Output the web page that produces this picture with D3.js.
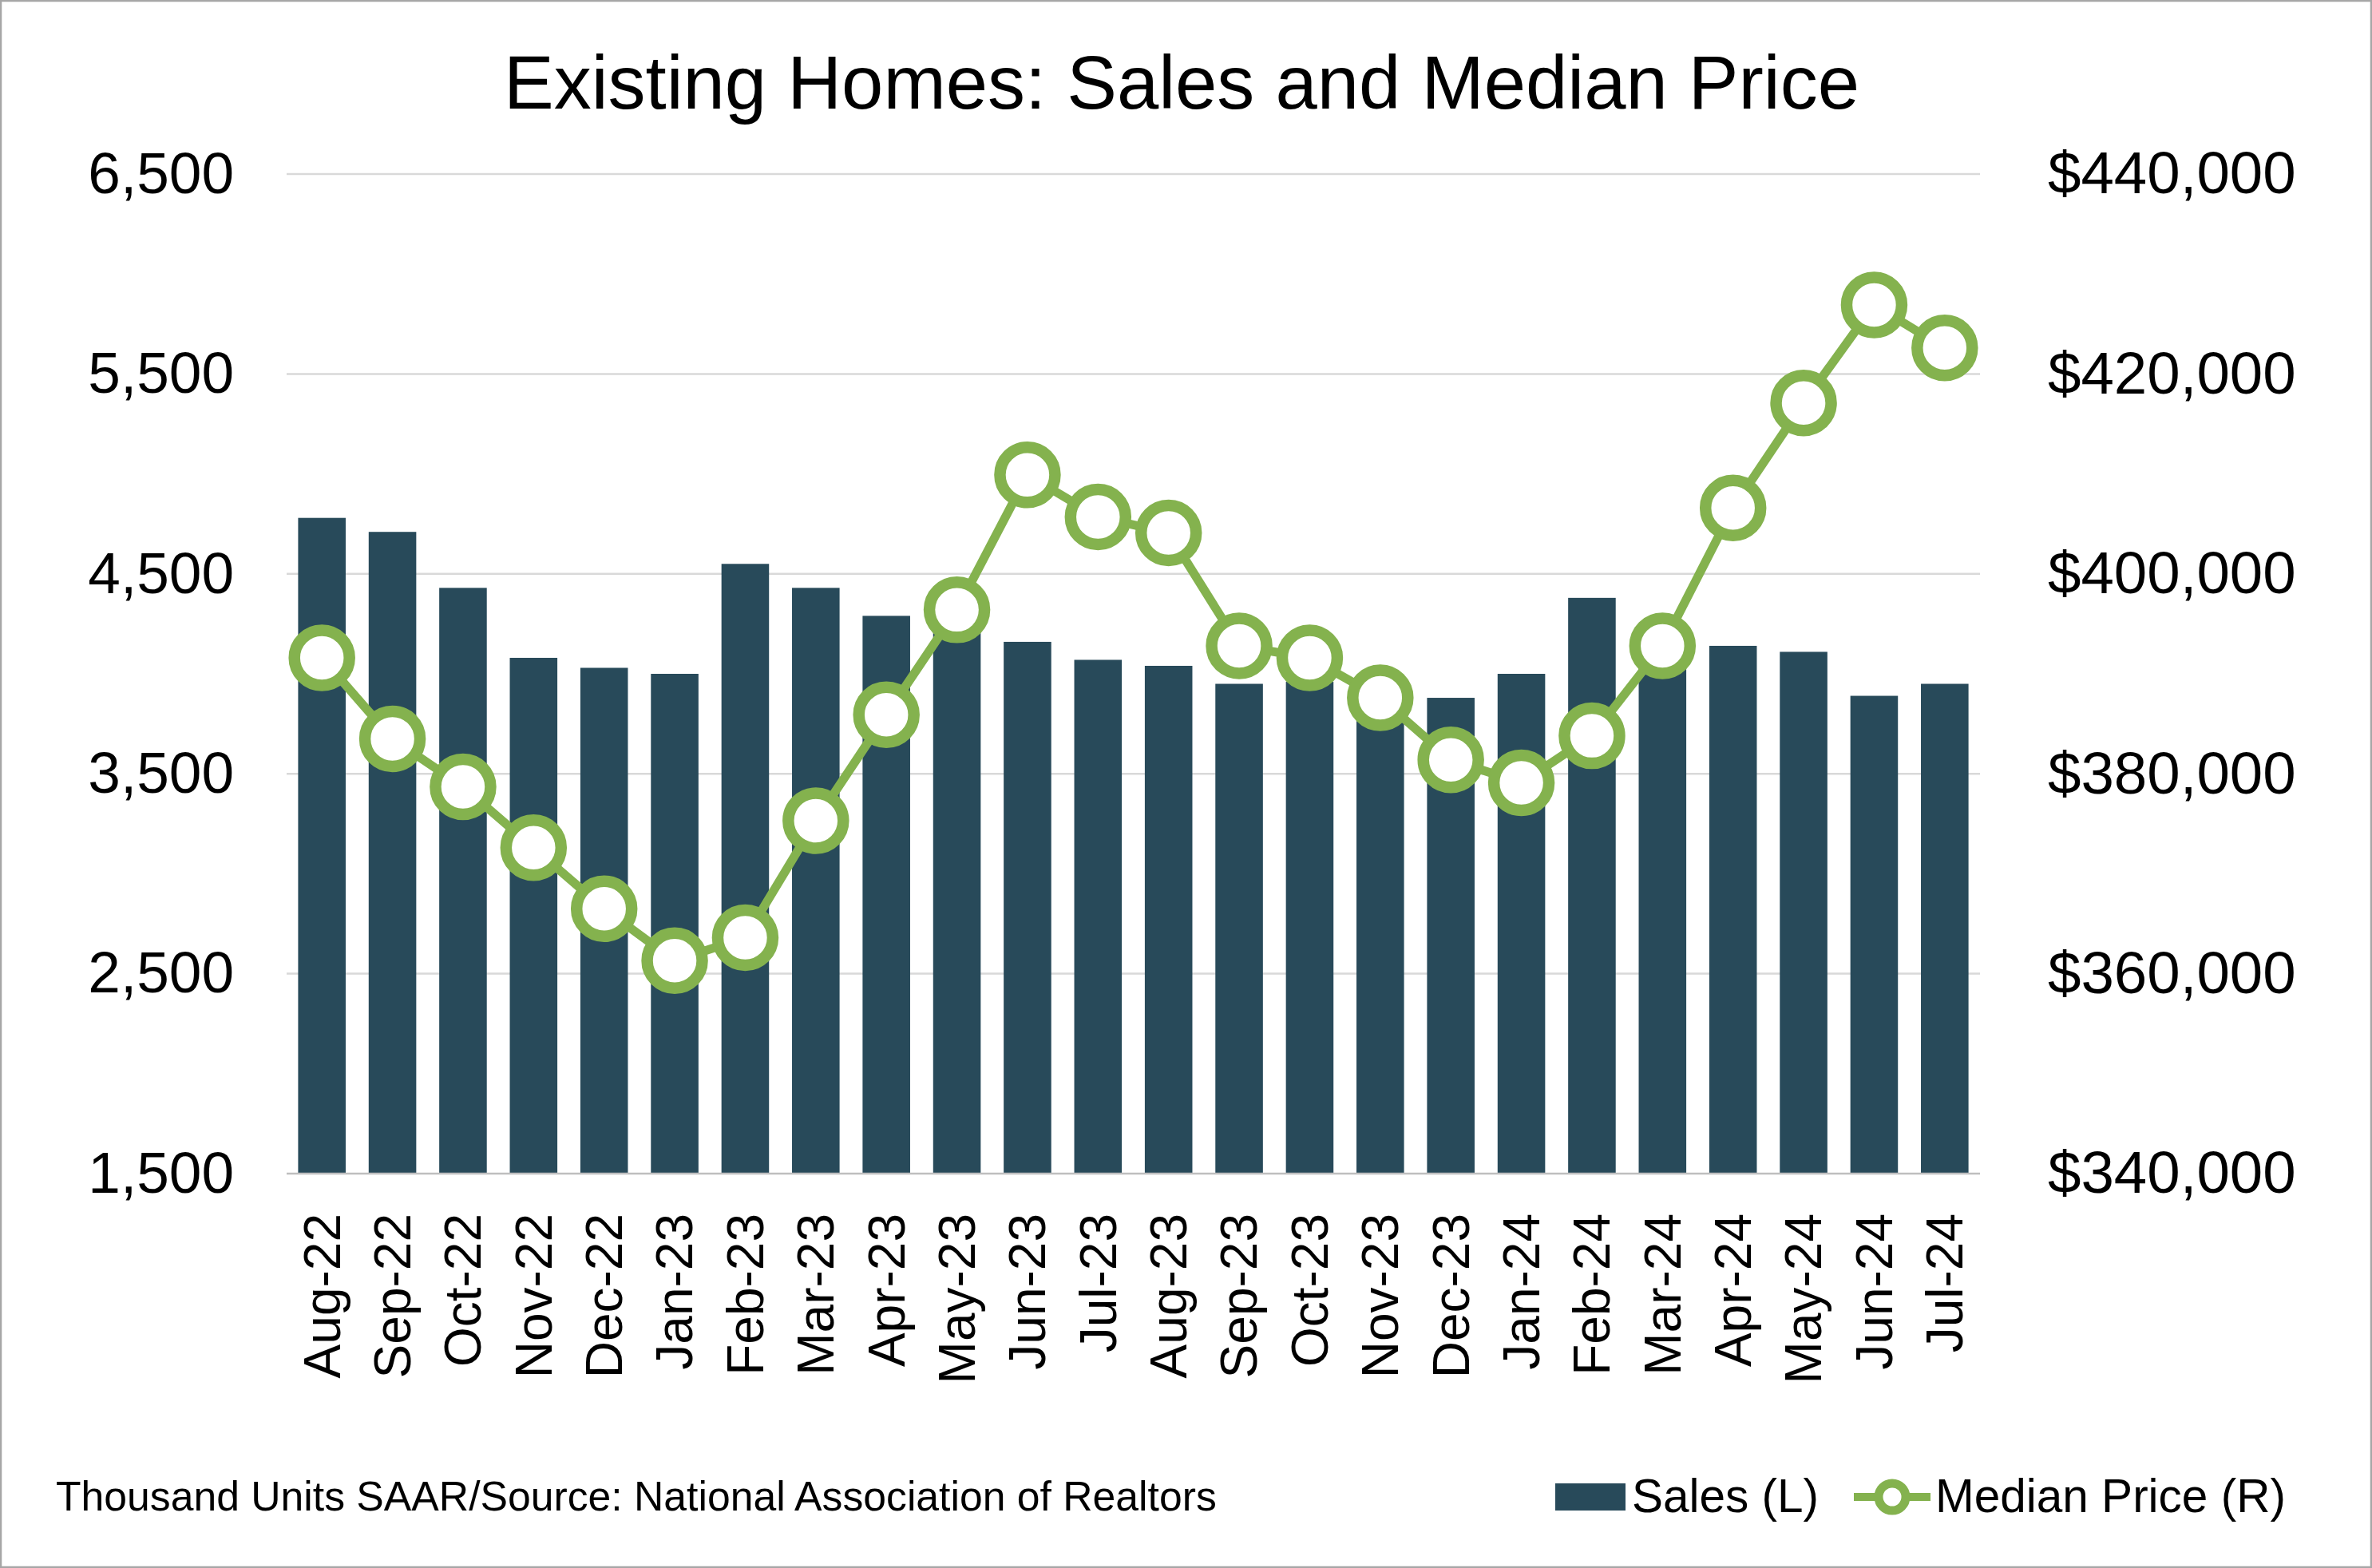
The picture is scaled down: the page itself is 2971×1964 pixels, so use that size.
<!DOCTYPE html>
<html>
<head>
<meta charset="utf-8">
<script src="https://cdn.jsdelivr.net/npm/d3@7"></script>
<style>
  html, body { margin: 0; padding: 0; background: #ffffff; }
  svg { display: block; }
  text { font-family: "Liberation Sans", Arial, sans-serif; fill: #000; }
</style>
</head>
<body>
<svg id="chart" width="2971" height="1964"></svg>
<script>
const categories = ["Aug-22","Sep-22","Oct-22","Nov-22","Dec-22","Jan-23","Feb-23","Mar-23","Apr-23","May-23","Jun-23","Jul-23",
                    "Aug-23","Sep-23","Oct-23","Nov-23","Dec-23","Jan-24","Feb-24","Mar-24","Apr-24","May-24","Jun-24","Jul-24"];
const sales = [4780, 4710, 4430, 4080, 4030, 4000, 4550, 4430, 4290, 4300, 4160, 4070,
               4040, 3950, 3960, 3770, 3880, 4000, 4380, 4190, 4140, 4110, 3890, 3950];
const medianPrice = [391600, 383500, 378700, 372600, 366500, 361300, 363600, 375300, 385900, 396400, 409900, 405700,
                     404100, 392800, 391600, 387600, 381400, 379100, 383800, 392800, 406600, 417100, 426900, 422600];
const leftTicks = [1500, 2500, 3500, 4500, 5500, 6500];
const rightTicks = [340000, 360000, 380000, 400000, 420000, 440000];

const titleText = "Existing Homes: Sales and Median Price";
const footerText = "Thousand Units SAAR/Source: National Association of Realtors";
const legendLabels = ["Sales (L)", "Median Price (R)"];

const W = 2971, H = 1964;
const plot = { left: 359, right: 2480, top: 218, bottom: 1470 };
const barColor = "#284a5a";
const green = "#84b24e";

const svg = d3.select("#chart");

// outer border
svg.append("rect").attr("x", 1).attr("y", 1).attr("width", W - 2).attr("height", H - 2)
  .attr("fill", "#fff").attr("stroke", "#a6a6a6").attr("stroke-width", 2.5);

const x = d3.scaleBand().domain(categories).range([plot.left, plot.right])
  .paddingInner(0.326).paddingOuter(0.163);
const yL = d3.scaleLinear().domain([1500, 6500]).range([plot.bottom, plot.top]);
const yR = d3.scaleLinear().domain([340000, 440000]).range([plot.bottom, plot.top]);

// gridlines
svg.append("g").selectAll("line").data(leftTicks.filter(d => d !== 1500)).join("line")
  .attr("x1", plot.left).attr("x2", plot.right)
  .attr("y1", d => yL(d)).attr("y2", d => yL(d))
  .attr("stroke", "#d9d9d9").attr("stroke-width", 2.5);

// bars
svg.append("g").selectAll("rect").data(categories).join("rect")
  .attr("x", d => x(d))
  .attr("width", x.bandwidth())
  .attr("y", (d, i) => yL(sales[i]))
  .attr("height", (d, i) => yL(1500) - yL(sales[i]))
  .attr("fill", barColor);

// baseline
svg.append("line").attr("x1", plot.left).attr("x2", plot.right)
  .attr("y1", yL(1500)).attr("y2", yL(1500))
  .attr("stroke", "#bfbfbf").attr("stroke-width", 2.5);

// left axis
const gL = svg.append("g").attr("transform", `translate(${plot.left},0)`)
  .call(d3.axisLeft(yL).tickValues(leftTicks).tickFormat(d3.format(",")).tickSize(0).tickPadding(66));
gL.select(".domain").remove();
gL.selectAll("text").attr("font-size", 73).attr("font-family", "Liberation Sans, Arial, sans-serif").attr("fill", "#000");

// right axis
const gR = svg.append("g").attr("transform", `translate(${plot.right},0)`)
  .call(d3.axisRight(yR).tickValues(rightTicks).tickFormat(d => "$" + d3.format(",")(d)).tickSize(0).tickPadding(85));
gR.select(".domain").remove();
gR.selectAll("text").attr("font-size", 74.5).attr("font-family", "Liberation Sans, Arial, sans-serif").attr("fill", "#000");

// bottom axis
const gX = svg.append("g").attr("transform", `translate(0,${plot.bottom})`)
  .call(d3.axisBottom(x).tickSize(0));
gX.select(".domain").remove();
gX.selectAll("text")
  .attr("transform", "rotate(-90)")
  .attr("x", -50).attr("y", 0).attr("dy", "0.35em")
  .style("text-anchor", "end")
  .attr("font-size", 64).attr("font-family", "Liberation Sans, Arial, sans-serif").attr("fill", "#000");

// line
const cx = (d, i) => x(categories[i]) + x.bandwidth() / 2;
const line = d3.line().x((d, i) => cx(d, i)).y(d => yR(d));
svg.append("path").datum(medianPrice).attr("d", line)
  .attr("fill", "none").attr("stroke", green).attr("stroke-width", 11).attr("stroke-linejoin", "round");
svg.append("g").selectAll("circle").data(medianPrice).join("circle")
  .attr("cx", (d, i) => cx(d, i)).attr("cy", d => yR(d)).attr("r", 34.5)
  .attr("fill", "#fff").attr("stroke", green).attr("stroke-width", 14.5);

// title
svg.append("text").attr("x", 1480).attr("y", 136).attr("text-anchor", "middle")
  .attr("font-size", 94).text(titleText);

// footer
svg.append("text").attr("x", 70).attr("y", 1892).attr("font-size", 51.7).text(footerText);

// legend
svg.append("rect").attr("x", 1948).attr("y", 1858).attr("width", 88).attr("height", 34).attr("fill", barColor);
svg.append("text").attr("x", 2044).attr("y", 1894).attr("font-size", 58.5).text(legendLabels[0]);
svg.append("line").attr("x1", 2322).attr("x2", 2418).attr("y1", 1875).attr("y2", 1875)
  .attr("stroke", green).attr("stroke-width", 10);
svg.append("circle").attr("cx", 2370).attr("cy", 1875).attr("r", 17)
  .attr("fill", "#fff").attr("stroke", green).attr("stroke-width", 11);
svg.append("text").attr("x", 2424).attr("y", 1894).attr("font-size", 58.5).text(legendLabels[1]);
</script>
</body>
</html>
